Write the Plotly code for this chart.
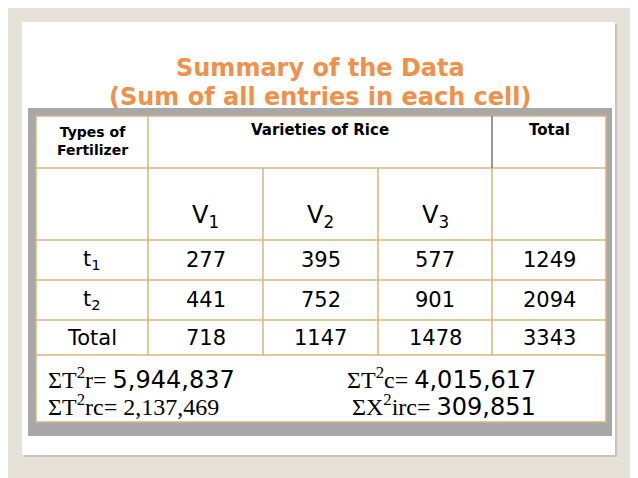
import plotly.graph_objects as go

# table data
row_labels = ["t<sub>1</sub>", "t<sub>2</sub>", "Total"]
varieties = ["V<sub>1</sub>", "V<sub>2</sub>", "V<sub>3</sub>"]
t1 = [277, 395, 577, 1249]
t2 = [441, 752, 901, 2094]
totals = [718, 1147, 1478, 3343]
stat_names_left = ["ΣT<sup>2</sup>r= ", "ΣT<sup>2</sup>rc= "]
stat_values_left = ["5,944,837", "2,137,469"]
stat_names_right = ["ΣT<sup>2</sup>c= ", "ΣX<sup>2</sup>irc= "]
stat_values_right = ["4,015,617", "309,851"]

W, H = 638, 478
OFF = 8  # body margin of the html page
BORDER = "#d8b47c"
col_x = [36, 148, 263, 378, 492, 606]
row_y = [116, 168, 240, 280, 320, 355, 422]

fig = go.Figure()
shapes = [
    dict(type="rect", x0=24, y0=24, x1=617, y1=457, fillcolor="#c9c4bb", line_width=0, layer="below"),
    dict(type="rect", x0=22, y0=22, x1=615, y1=455, fillcolor="white", line_width=0, layer="below"),
    dict(type="rect", x0=28, y0=108, x1=612, y1=436, fillcolor="#a8a8a8", line_width=0, layer="below"),
    dict(type="rect", x0=36, y0=116, x1=606, y1=422, fillcolor="white", line=dict(color=BORDER, width=1.5), layer="below"),
]
for y in row_y[1:-1]:
    shapes.append(dict(type="line", x0=36, x1=606, y0=y, y1=y, line=dict(color=BORDER, width=1.5)))
shapes.append(dict(type="line", x0=148, x1=148, y0=116, y1=355, line=dict(color=BORDER, width=1.5)))
shapes.append(dict(type="line", x0=492, x1=492, y0=116, y1=168, line=dict(color="#777", width=1.5)))
shapes.append(dict(type="line", x0=492, x1=492, y0=168, y1=355, line=dict(color=BORDER, width=1.5)))
for x in col_x[2:4]:
    shapes.append(dict(type="line", x0=x, x1=x, y0=168, y1=355, line=dict(color=BORDER, width=1.5)))

ann = []
def txt(x, y, s, size, bold=False, family="DejaVu Sans", color="black", xanchor="center"):
    ann.append(dict(x=x, y=y, text=f"<b>{s}</b>" if bold else s, showarrow=False, xanchor=xanchor,
                    font=dict(size=size, family=family, color=color)))

txt(320, 68, "Summary of the Data", 24, True, color="#f0904a")
txt(320, 97, "(Sum of all entries in each cell)", 24, True, color="#f0904a")
txt(92, 141, "Types of<br>Fertilizer", 14, True)
txt(320, 130, "Varieties of Rice", 15, True)
txt(549, 130, "Total", 15, True)
for i, v in enumerate(varieties):
    txt((col_x[i + 1] + col_x[i + 2]) / 2, 216, v, 24)
for r, (lab, vals) in enumerate(zip(row_labels, [t1, t2, totals])):
    yc = (row_y[r + 2] + row_y[r + 3]) / 2
    txt(92, yc, lab, 21)
    for c, v in enumerate(vals):
        txt((col_x[c + 1] + col_x[c + 2]) / 2, yc, str(v), 21)
sans = '<span style="font-family:DejaVu Sans">{}</span>'
for i in range(2):
    y = 378 + i * 27
    left_val = stat_values_left[i] if i == 1 else sans.format(stat_values_left[i])
    txt(46, y, stat_names_left[i] + left_val, 24, family="Liberation Serif", xanchor="left")
    txt(538, y, stat_names_right[i] + sans.format(stat_values_right[i]), 24,
        family="Liberation Serif", xanchor="right")

fig.update_layout(
    width=W, height=H, shapes=shapes, annotations=ann,
    paper_bgcolor="#e7e2d9", plot_bgcolor="#e7e2d9",
    margin=dict(l=0, r=0, t=0, b=0), showlegend=False,
    xaxis=dict(range=[OFF, W + OFF], visible=False, fixedrange=True),
    yaxis=dict(range=[H + OFF, OFF], visible=False, fixedrange=True),
)
fig.write_html("out.html")
